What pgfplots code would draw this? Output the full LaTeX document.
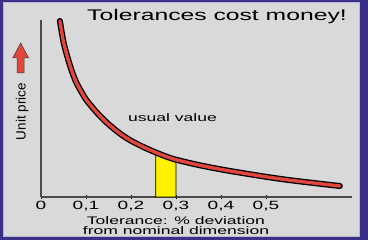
\documentclass[border=0pt]{standalone}
\usepackage{fontspec}
\setmainfont{Liberation Sans}[FakeStretch=1.6]
\newfontfamily\plainsans{Liberation Sans}
\usepackage{pgfplots}
\usepackage{pgfplotstable}
\pgfplotsset{compat=1.18}
\definecolor{bgray}{HTML}{D9D9D9}
\definecolor{framec}{HTML}{3A3088}
\definecolor{curvered}{HTML}{E0463C}
\definecolor{axgray}{HTML}{4A4A4A}
\pgfplotstableread{
x y
0.042 176.0
0.050 155.0
0.060 138.0
0.070 124.0
0.080 113.0
0.090 105.0
0.100 97.5
0.120 86.5
0.140 77.0
0.160 69.0
0.180 62.0
0.200 56.3
0.225 50.5
0.250 45.5
0.275 41.0
0.300 37.3
0.350 32.0
0.400 27.6
0.450 23.8
0.500 20.2
0.550 17.0
0.600 14.3
0.664 11.0
}\pricecurve
\begin{document}
\begin{tikzpicture}[x=1bp,y=1bp]
\path[use as bounding box] (0,0) rectangle (368,240);
\fill[framec] (0,0) rectangle (368,240);
\fill[bgray] (3.5,3.3) rectangle (360,237.5);
\draw[framec!35!white, line width=0.8bp] (3.9,3.7) rectangle (359.6,237.1);
\node[anchor=base, font=\fontsize{15.5}{18}\selectfont, inner sep=0pt] at (217,219.3) {Tolerances cost money!};
\begin{axis}[
  at={(41bp,43bp)}, anchor=south west,
  scale only axis, width=311bp, height=177bp,
  xmin=0, xmax=0.691, ymin=0, ymax=177,
  axis x line*=bottom, axis y line*=left,
  axis line style={-, draw=axgray, line width=1.1bp},
  ytick=\empty,
  xtick={0,0.1,0.2,0.3,0.4,0.5},
  xticklabels={0,{0,1},{0,2},{0,3},{0,4},{0,5}},
  xticklabel style={font=\fontsize{12}{14}\selectfont, inner sep=2pt},
  tick align=center, major tick length=4bp,
  xtick style={black, line width=0.6bp},
  xlabel={Tolerance: \% deviation\\from nominal dimension},
  xlabel style={at={(axis description cs:0.434,-0.110)}, anchor=north, align=center, inner sep=0pt, font=\fontsize{11}{10}\selectfont},
  ylabel={Unit price},
  ylabel style={at={(axis description cs:-0.0492,0.482)}, anchor=base, inner sep=0pt, font=\plainsans\fontsize{13.5}{16}\selectfont},
  clip=false,
]
\addplot[fill=yellow, draw=black, line width=0.8bp] coordinates {(0.255,0) (0.255,45) (0.3,37) (0.3,0)} -- cycle;
\addplot[black, line width=6bp, line cap=round, smooth, no marks] table[x=x,y=y] {\pricecurve};
\addplot[curvered, line width=3.4bp, line cap=round, smooth, no marks] table[x=x,y=y] {\pricecurve};
\end{axis}
\filldraw[fill=curvered, draw=black!75, line width=0.5bp] (20.7,197) -- (28.7,182) -- (24.2,182) -- (24.2,167) -- (17.2,167) -- (17.2,182) -- (12.7,182) -- cycle;
\node[anchor=base, font=\fontsize{11}{13}\selectfont, inner sep=0pt] at (172.5,118.3) {usual value};
\end{tikzpicture}
\end{document}
